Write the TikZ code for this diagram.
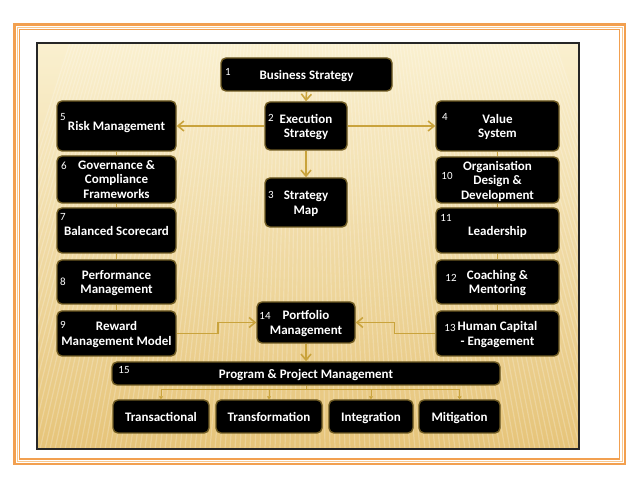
\documentclass[tikz,border=0pt]{standalone}
\usepackage{fontspec}
\setmainfont{Carlito}
\usetikzlibrary{arrows.meta}
\definecolor{gold}{HTML}{C9A33C}
\definecolor{frameor}{HTML}{F2A050}
\definecolor{framelt}{HTML}{F8C890}
\definecolor{paneltop}{HTML}{FAF0CF}
\definecolor{panelbot}{HTML}{E6C479}
\definecolor{boxedge}{HTML}{6E5A22}
\tikzset{
  box/.style={fill=black, draw=boxedge, line width=1.4pt, rounded corners=5pt,
    text=white, align=center, inner sep=1pt, text depth=0pt,
    font=\bfseries\fontsize{13}{14.5}\selectfont},
  num/.style={text=white, inner sep=0pt, font=\fontsize{11}{11}\selectfont},
  conn/.style={draw=gold, line width=1.6pt},
  link/.style={draw=gold, line width=1pt},
  arr/.style={-{Straight Barb[length=6pt,width=10pt]}},
  smallarr/.style={-{Triangle[length=3pt,width=4pt]}}
}
\begin{document}
\begin{tikzpicture}[x=1pt,y=-1pt]
\useasboundingbox (0,0) rectangle (638,478);
\fill[white] (0,0) rectangle (638,478);
% frame
\draw[frameor, line width=2.6pt] (14.5,24.5) rectangle (625,464);
\draw[framelt, line width=0.8pt] (17,27) rectangle (622.5,461.5);
\draw[frameor, line width=1.1pt] (19.5,29.5) rectangle (619.5,459);
% panel
\shade[top color=paneltop, bottom color=panelbot] (37,43) rectangle (579,449);
\begin{scope}
\clip (37,43) rectangle (579,449);
\foreach \i in {0,...,150} {
  \draw[white, opacity=0.22, line width=1.2pt] (308,-700) -- ({-60+\i*5},449);
}
\end{scope}
\draw[black!85, line width=1.5pt] (37,43) rectangle (579,449);

% nodes
\node[box, minimum width=171pt, minimum height=33pt] (n1) at (306.5,74.5) {Business Strategy};
\node[box, minimum width=82pt, minimum height=48pt] (n2) at (306,126) {Execution\\Strategy};
\node[box, minimum width=82pt, minimum height=49pt] (n3) at (306,202.5) {Strategy\\Map};

\node[box, minimum width=119pt, minimum height=50pt] (n5) at (116.5,126) {Risk Management};
\node[box, minimum width=119pt, minimum height=47pt] (n6) at (116.5,179.5) {Governance \&\\Compliance\\Frameworks};
\node[box, minimum width=119pt, minimum height=45pt] (n7) at (116.5,230.5) {Balanced Scorecard};
\node[box, minimum width=119pt, minimum height=44pt] (n8) at (116.5,282) {Performance\\Management};
\node[box, minimum width=119pt, minimum height=45pt] (n9) at (116.5,333.5) {Reward\\Management Model};

\node[box, minimum width=123pt, minimum height=50pt] (n4) at (497.5,126) {Value\\System};
\node[box, minimum width=123pt, minimum height=46pt] (n10) at (497.5,180) {Organisation\\Design \&\\Development};
\node[box, minimum width=123pt, minimum height=45pt] (n11) at (497.5,230.5) {Leadership};
\node[box, minimum width=123pt, minimum height=44pt] (n12) at (497.5,282) {Coaching \&\\Mentoring};
\node[box, minimum width=123pt, minimum height=45pt] (n13) at (497.5,333.5) {Human Capital\\- Engagement};

\node[box, minimum width=98pt, minimum height=41pt] (n14) at (306,322.5) {Portfolio\\Management};
\node[box, minimum width=388pt, minimum height=23pt] (n15) at (306,373.5) {Program \& Project Management};

\node[box, minimum width=96pt, minimum height=33pt] (b1) at (161,416.5) {Transactional};
\node[box, minimum width=106pt, minimum height=33pt] (b2) at (269,416.5) {Transformation};
\node[box, minimum width=84pt, minimum height=33pt] (b3) at (371,416.5) {Integration};
\node[box, minimum width=81pt, minimum height=33pt] (b4) at (459.5,416.5) {Mitigation};

% numbers
\node[num] (k1) at (228,72) {1};
\node[num] (k2) at (271,118) {2};
\node[num] (k3) at (271,195) {3};
\node[num] (k4) at (445,117) {4};
\node[num] (k5) at (63,117) {5};
\node[num] (k6) at (64,166) {6};
\node[num] (k7) at (63,217) {7};
\node[num] (k8) at (63,282) {8};
\node[num] (k9) at (63,325) {9};
\node[num] (k10) at (447,176) {10};
\node[num] (k11) at (446,218) {11};
\node[num] (k12) at (451,278) {12};
\node[num] (k13) at (450,328) {13};
\node[num] (k14) at (265,316) {14};
\node[num] (k15) at (124,370) {15};

% connectors
\draw[conn, arr] (n1.south) -- (n2.north);
\draw[conn, arr] (n2.south) -- (n3.north);
\draw[conn, arr] (n2.west) -- (n5.east);
\draw[conn, arr] (n2.east) -- (n4.west);

\draw[link] (n5.south) -- (n6.north);
\draw[link] (n6.south) -- (n7.north);
\draw[link] (n7.south) -- (n8.north);
\draw[link] (n8.south) -- (n9.north);
\draw[link] (n4.south) -- (n10.north);
\draw[link] (n10.south) -- (n11.north);
\draw[link] (n11.south) -- (n12.north);
\draw[link] (n12.south) -- (n13.north);

\draw[conn, arr] (n9.east) -- ++(41,0) |- (n14.west);
\draw[conn, arr] (n13.west) -- ++(-41,0) |- (n14.east);
\draw[conn, arr] (n14.south) -- (n15.north);

\coordinate (bus) at (306,390);
\draw[link] (n15.south) -- (bus);
\draw[link, smallarr] (bus) -| (b1.north);
\draw[link, smallarr] (bus) -| (b2.north);
\draw[link, smallarr] (bus) -| (b3.north);
\draw[link, smallarr] (bus) -| (b4.north);
\end{tikzpicture}
\end{document}
